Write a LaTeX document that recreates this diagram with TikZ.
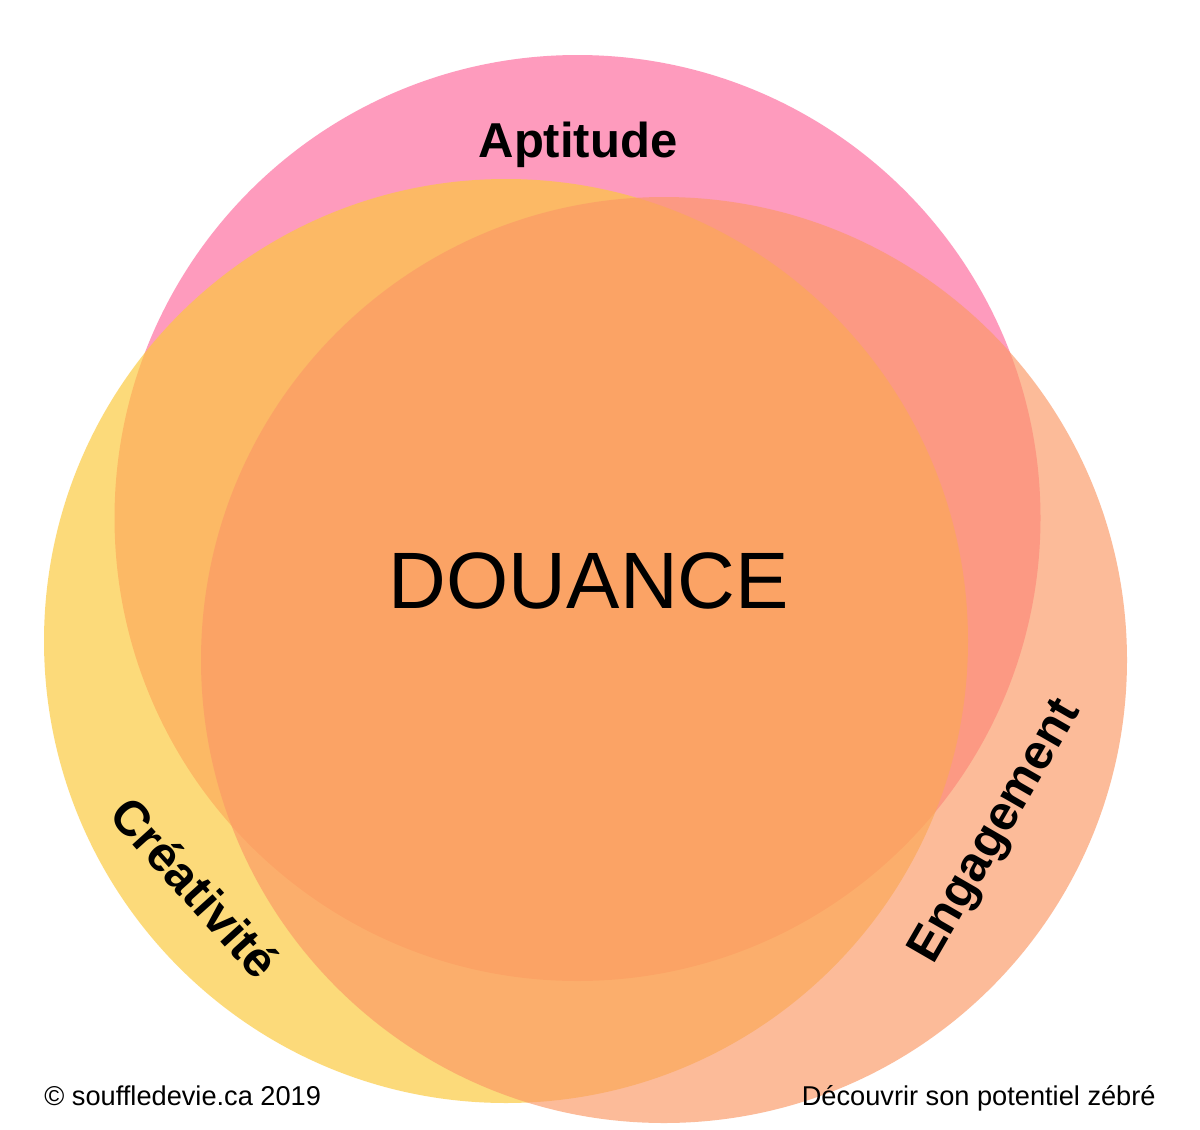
\documentclass[tikz,border=0pt]{standalone}
\usepackage{fontspec}
\setmainfont{Liberation Sans}
\usetikzlibrary{positioning}
\definecolor{aptpink}{HTML}{FE9BBD}
\definecolor{creayellow}{HTML}{FCC93A}
\definecolor{engorange}{HTML}{FB9865}

\begin{document}
\begin{tikzpicture}[
  x=0.5pt, y=-0.5pt,
  ring/.style={circle, inner sep=0pt, minimum size=463pt},
  tag/.style={font=\fontsize{24.5}{29}\selectfont\bfseries, inner sep=0pt, anchor=base},
  foot/.style={font=\fontsize{13.6}{16}\selectfont, inner sep=0pt}
]
  \useasboundingbox (0,0) rectangle (1200,1130);
  \fill[white] (0,0) rectangle (1200,1130);

  % Circles
  \node[ring, fill=aptpink] (apt) at (577.5,518) {};
  \node[ring, fill=creayellow, fill opacity=0.67, minimum size=462pt] (crea) at (506,641) {};
  \node[ring, fill=engorange, fill opacity=0.66] (eng) at (664,660) {};

  % Labels
  \node[tag] (apttxt) at (578,157) {Aptitude};
  \node[tag, rotate=-48] (creatxt) at (182,899) {Créativité};
  \node[tag, rotate=60] (engtxt) at (1007,838) {Engagement};
  \node[font=\fontsize{40}{48}\selectfont, inner sep=0pt, anchor=base] (douance) at (589,608) {DOUANCE};

  % Footer
  \node[foot, anchor=base west] (copy) at (44,1105) {© souffledevie.ca 2019};
  \node[foot, anchor=base east] (slogan) at (1156,1105) {Découvrir son potentiel zébré};
\end{tikzpicture}
\end{document}
